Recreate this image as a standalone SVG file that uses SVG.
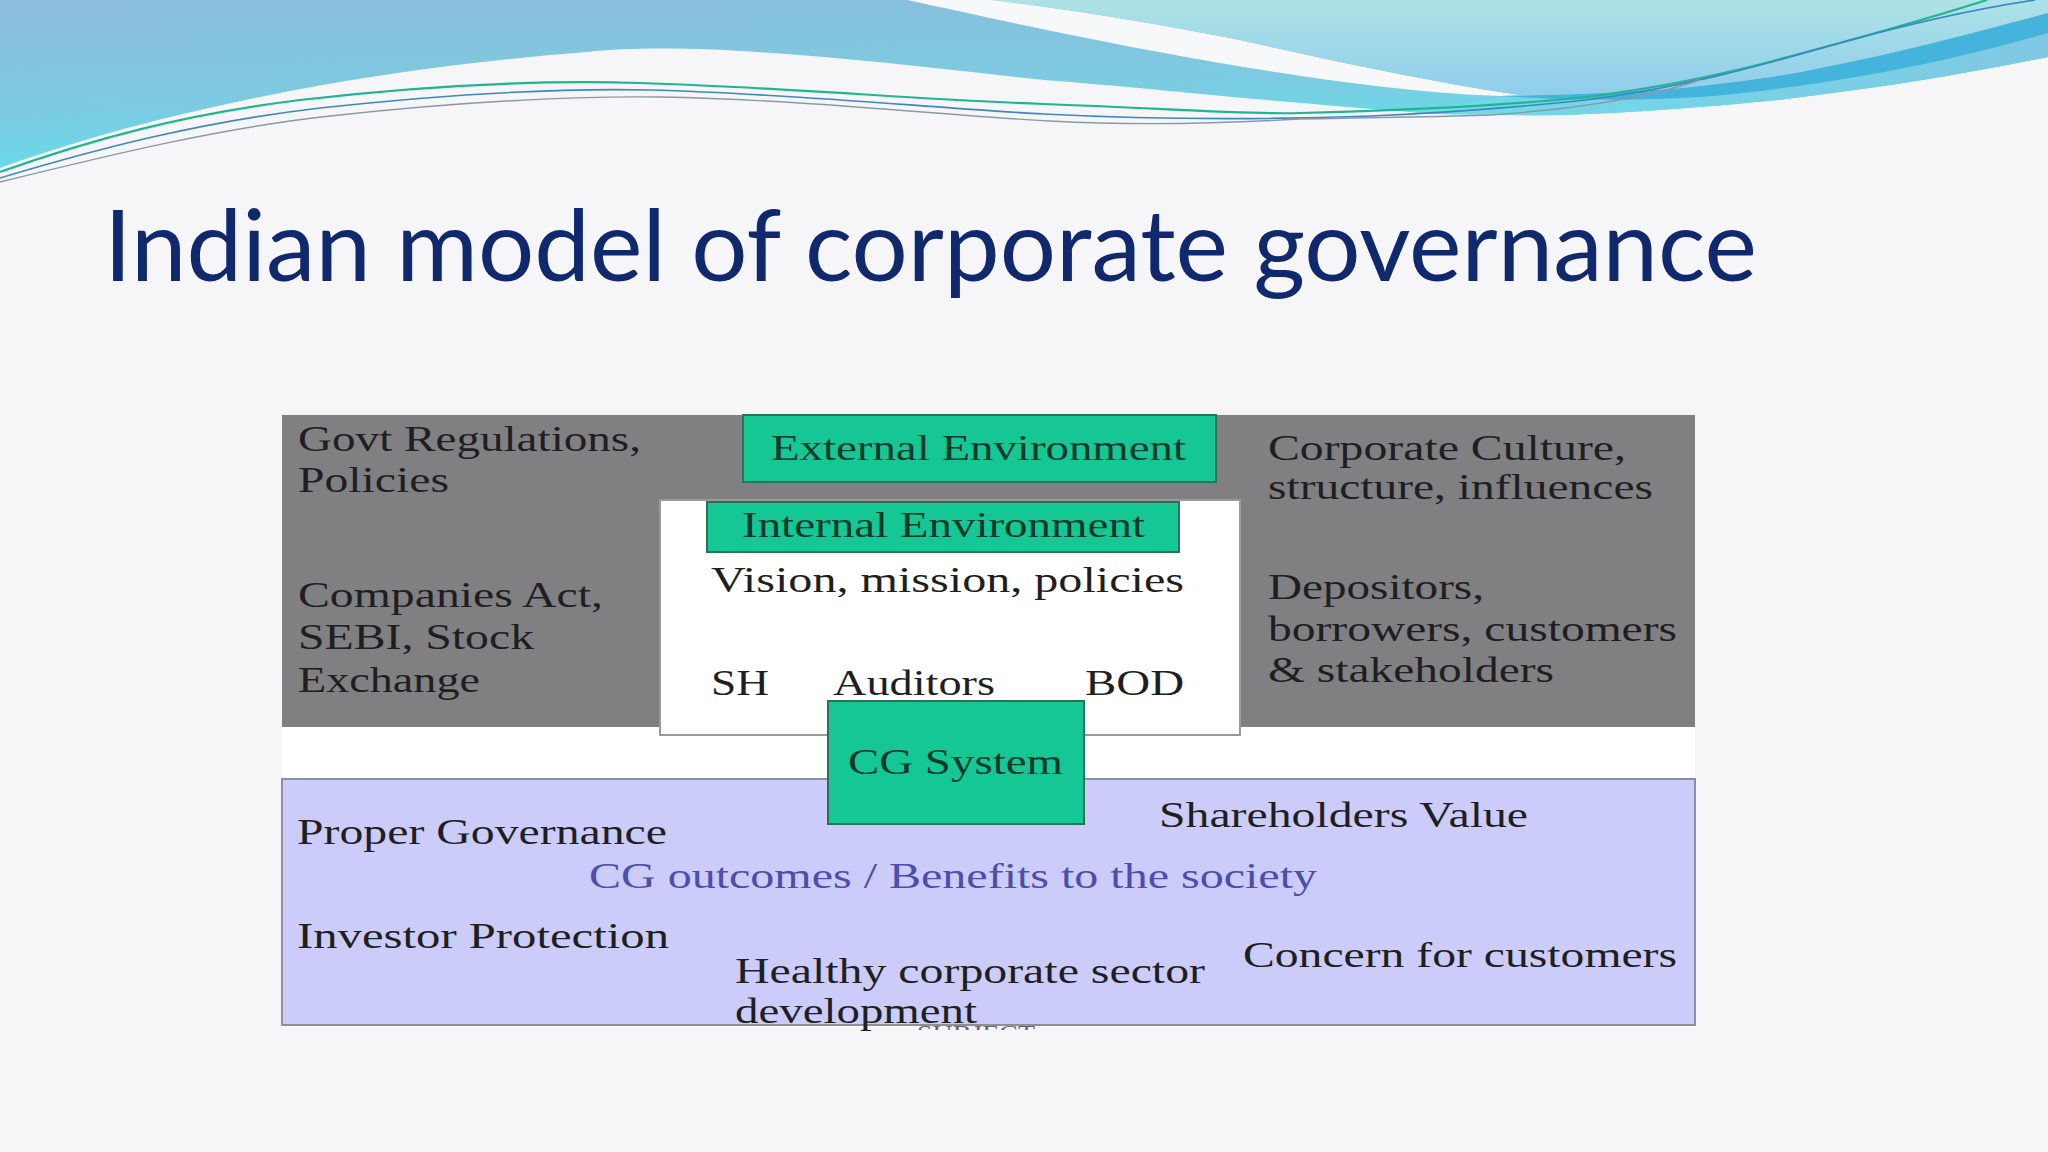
<svg xmlns="http://www.w3.org/2000/svg" width="2048" height="1152" viewBox="0 0 2048 1152">
<defs>
  <linearGradient id="gBlue" x1="0" y1="0" x2="0.35" y2="1">
    <stop offset="0" stop-color="#8bbcdb"/>
    <stop offset="0.6" stop-color="#7ccbe2"/>
    <stop offset="1" stop-color="#62e0ea"/>
  </linearGradient>
  <linearGradient id="gLight" x1="0" y1="0" x2="0" y2="1">
    <stop offset="0" stop-color="#ade2e6"/>
    <stop offset="1" stop-color="#8fcdeb"/>
  </linearGradient>
  <linearGradient id="gCyan" x1="0" y1="0" x2="1" y2="0">
    <stop offset="0" stop-color="#70dbe6"/>
    <stop offset="1" stop-color="#80c8e4"/>
  </linearGradient>
  <clipPath id="subjClip"><rect x="900" y="1018" width="160" height="12"/></clipPath>
  <style>
    .t{font-family:"Liberation Serif","Times New Roman",serif;font-size:35px;fill:#1f1f22}
    .tg{font-family:"Liberation Serif","Times New Roman",serif;font-size:35px;fill:#0c3a2a}
    .tb{font-family:"Liberation Serif","Times New Roman",serif;font-size:35px;fill:#4d4dab}
    .green{fill:#15c795;stroke:#2f6e58;stroke-width:2}
    .gray{fill:#807f82}
  </style>
</defs>

<!-- slide background -->
<rect x="0" y="0" width="2048" height="1152" fill="#f6f6f8"/>

<!-- top waves -->
<g id="waves">
  <path d="M0,0 H2048 V57 C1960,75 1880,88 1777,100 C1700,108 1620,113 1567,115 C1480,116 1420,114 1410,112 C1250,100 1150,88 1044,80 C880,62 700,40 587,52 C460,62 330,80 200,110 C120,128 50,150 0,168 Z" fill="url(#gBlue)"/>
  <path d="M1410,112 C1480,114 1520,116 1567,115 C1620,113 1700,108 1777,100 C1880,88 1960,75 2048,57 V25 C1850,70 1700,95 1520,95 Z" fill="url(#gCyan)"/>
  <path d="M1500,96 C1560,95 1620,93 1682,88 C1740,82 1790,75 1825,67 C1920,48 1990,28 2048,13 V33 C1960,58 1890,72 1825,82 C1760,92 1720,96 1682,98 C1620,101 1560,100 1500,96 Z" fill="#45b4dc"/>
  <path d="M907,0 C1000,20 1110,45 1250,68 C1360,86 1440,94 1501,96 L1520,95 C1420,80 1330,60 1240,40 C1150,22 1060,8 992,0 Z" fill="#f7f8fa"/>
  <path d="M992,0 C1060,8 1150,22 1240,40 C1330,60 1420,80 1520,95 L1500,96 C1560,95 1620,93 1682,88 C1740,82 1790,75 1825,67 C1920,48 1990,28 2048,13 V0 Z" fill="url(#gLight)"/>
  <path d="M0,172 C90,140 180,115 300,100 C420,86 540,80 640,83 C800,88 920,100 1044,104 C1160,108 1250,115 1300,113 C1420,110 1520,104 1586,97 C1660,88 1720,75 1777,60 C1860,38 1930,18 1987,0" fill="none" stroke="#1fb590" stroke-width="2.2"/>
  <path d="M0,178 C100,148 200,122 320,108 C440,95 560,88 650,90 C800,94 930,108 1044,114 C1160,120 1260,120 1371,116 C1460,112 1530,106 1586,100 C1680,88 1760,66 1825,47 C1900,26 1980,8 2035,0" fill="none" stroke="#3e86c4" stroke-width="1.6"/>
  <path d="M0,182 C110,155 220,128 330,116 C450,103 570,96 660,97 C810,100 940,115 1050,121 C1160,127 1250,122 1300,119 C1380,117 1440,117 1491,115 C1560,110 1600,104 1634,97 C1660,92 1680,87 1700,80" fill="none" stroke="#8a9aa4" stroke-width="1.4"/>
</g>

<!-- title -->
<text id="title" x="104" y="281" font-family="Lato,'Open Sans','Noto Sans',sans-serif" font-size="98" fill="#10296e" textLength="1653" lengthAdjust="spacingAndGlyphs">Indian model of corporate governance</text>

<!-- diagram area background -->
<rect x="282" y="415" width="1413" height="612" fill="#ffffff"/>

<g id="connectors"></g>

<!-- external environment panel -->
<g id="external-panel">
  <rect class="gray" x="282" y="415" width="1413" height="312"/>
  <text class="t" x="298" y="451" textLength="343" lengthAdjust="spacingAndGlyphs">Govt Regulations,</text>
  <text class="t" x="298" y="492" textLength="151" lengthAdjust="spacingAndGlyphs">Policies</text>
  <text class="t" x="298" y="607" textLength="305" lengthAdjust="spacingAndGlyphs">Companies Act,</text>
  <text class="t" x="298" y="649" textLength="236" lengthAdjust="spacingAndGlyphs">SEBI, Stock</text>
  <text class="t" x="298" y="692" textLength="182" lengthAdjust="spacingAndGlyphs">Exchange</text>
  <text class="t" x="1268" y="460" textLength="358" lengthAdjust="spacingAndGlyphs">Corporate Culture,</text>
  <text class="t" x="1268" y="499" textLength="385" lengthAdjust="spacingAndGlyphs">structure, influences</text>
  <text class="t" x="1268" y="599" textLength="216" lengthAdjust="spacingAndGlyphs">Depositors,</text>
  <text class="t" x="1268" y="641" textLength="409" lengthAdjust="spacingAndGlyphs">borrowers, customers</text>
  <text class="t" x="1268" y="682" textLength="286" lengthAdjust="spacingAndGlyphs">&amp; stakeholders</text>
</g>

<g id="external-environment">
  <rect class="green" x="743" y="415" width="473" height="67"/>
  <text class="tg" x="771" y="460" textLength="415" lengthAdjust="spacingAndGlyphs">External Environment</text>
</g>

<!-- internal environment box -->
<g id="internal-box">
  <rect x="660" y="500" width="580" height="235" fill="#ffffff" stroke="#9a9a9e" stroke-width="2"/>
  <text class="t" x="711" y="592" textLength="473" lengthAdjust="spacingAndGlyphs">Vision, mission, policies</text>
  <text class="t" x="711" y="695" textLength="58" lengthAdjust="spacingAndGlyphs">SH</text>
  <text class="t" x="833" y="695" textLength="162" lengthAdjust="spacingAndGlyphs">Auditors</text>
  <text class="t" x="1085" y="695" textLength="99" lengthAdjust="spacingAndGlyphs">BOD</text>
</g>

<g id="internal-environment">
  <rect class="green" x="707" y="502" width="472" height="50"/>
  <text class="tg" x="742" y="537" textLength="403" lengthAdjust="spacingAndGlyphs">Internal Environment</text>
</g>

<!-- outcomes panel -->
<g id="outcomes-panel">
  <rect x="282" y="779" width="1413" height="246" fill="#ccccfa" stroke="#8e8e9c" stroke-width="2"/>
  <text class="t" x="1159" y="827" textLength="369" lengthAdjust="spacingAndGlyphs">Shareholders Value</text>
  <text class="t" x="297" y="844" textLength="370" lengthAdjust="spacingAndGlyphs">Proper Governance</text>
  <text class="tb" x="589" y="888" textLength="728" lengthAdjust="spacingAndGlyphs">CG outcomes / Benefits to the society</text>
  <text class="t" x="297" y="948" textLength="372" lengthAdjust="spacingAndGlyphs">Investor Protection</text>
  <text class="t" x="1243" y="967" textLength="434" lengthAdjust="spacingAndGlyphs">Concern for customers</text>
  <text class="t" x="735" y="983" textLength="470" lengthAdjust="spacingAndGlyphs">Healthy corporate sector</text>
  <text class="t" x="735" y="1023" textLength="242" lengthAdjust="spacingAndGlyphs">development</text>
  <text clip-path="url(#subjClip)" x="917" y="1040" font-family="'Liberation Serif',serif" font-size="22" fill="#666" textLength="118" lengthAdjust="spacingAndGlyphs">SUBJECT</text>
</g>

<g id="cg-system">
  <rect class="green" x="828" y="701" width="256" height="123"/>
  <text class="tg" x="848" y="774" textLength="215" lengthAdjust="spacingAndGlyphs">CG System</text>
</g>
</svg>
